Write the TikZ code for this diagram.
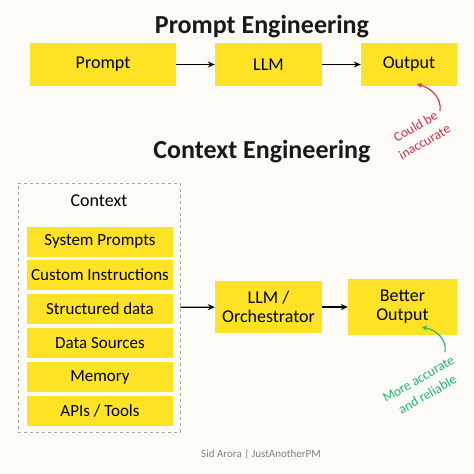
\documentclass[tikz,border=0pt]{standalone}
\usepackage{fontspec}
\setmainfont{Carlito}
\usetikzlibrary{arrows.meta}
\definecolor{bg}{RGB}{253,251,246}
\definecolor{ylw}{RGB}{254,226,38}
\definecolor{redann}{RGB}{208,48,74}
\definecolor{greenann}{RGB}{28,184,108}
\begin{document}
\begin{tikzpicture}[x=1pt,y=-1pt,
  box/.style={fill=ylw, inner sep=0pt, align=center, font=\fontsize{18}{19}\selectfont},
  item/.style={fill=ylw, minimum width=146pt, minimum height=30pt, inner sep=0pt, font=\fontsize{17}{20}\selectfont},
  title/.style={anchor=base, font=\bfseries\fontsize{26}{30}\selectfont, text=black!90},
  arr/.style={-{Stealth[length=7pt,width=6pt]}, line width=1.3pt},
  annarr/.style={-{Stealth[length=5pt,width=5pt]}, line width=1.1pt},
  ann/.style={align=center, font=\fontsize{13.5}{18}\selectfont, inner sep=0pt}]
\fill[bg] (0,0) rectangle (474,474);
\useasboundingbox (0,0) rectangle (474,474);

% Prompt engineering
\node[title] (t1) at (262,33) {Prompt Engineering};
\node[box, minimum width=146pt, minimum height=43pt] (p) at (103,64.5) {Prompt};
\node[box, minimum width=107pt, minimum height=43pt] (l) at (268.5,64.5) {LLM};
\node[box, minimum width=96pt, minimum height=43pt] (o) at (409,64.5) {Output};
\draw[arr] (p) -- (l);
\draw[arr] (l) -- (o);

\coordinate (rs) at (440,111);
\draw[annarr, redann] (rs) .. controls (442,98) and (431,88) .. ([xshift=8pt,yshift=2pt]o.south);
\node[ann, text=redann, rotate=30] (r1) at (420,134) {Could be\\inaccurate};

% Context engineering
\node[title] (t2) at (262,158) {Context Engineering};
\node[draw=gray!70, dashed, line width=0.8pt, minimum width=162pt, minimum height=249pt, inner sep=0pt] (ctx) at (99,307.5) {};
\node[font=\fontsize{18}{20}\selectfont] (ctxl) at (99,201) {Context};
\node[item] (i1) at (100,241.5) {System Prompts};
\node[item] (i2) at (100,275) {Custom Instructions};
\node[item] (i3) at (100,309) {Structured data};
\node[item] (i4) at (100,343) {Data Sources};
\node[item] (i5) at (100,377) {Memory};
\node[item] (i6) at (100,411) {APIs / Tools};

\node[box, minimum width=107pt, minimum height=52pt] (orch) at (268.5,307) {LLM /\\Orchestrator};
\node[box, minimum width=109pt, minimum height=56pt] (bo) at (402.5,307) {Better\\Output};
\draw[arr] (ctx) -- (orch);
\draw[arr] (orch) -- (bo);

\coordinate (gs) at (445,352);
\draw[annarr, greenann] (gs) .. controls (447,340) and (437,330) .. ([xshift=19.5pt,yshift=8pt]bo.south);
\node[ann, text=greenann, rotate=30] (g1) at (423,387) {More accurate\\and reliable};

\node[text=gray, font=\fontsize{11}{13}\selectfont] (ft) at (261,454) {Sid Arora | JustAnotherPM};
\end{tikzpicture}
\end{document}
